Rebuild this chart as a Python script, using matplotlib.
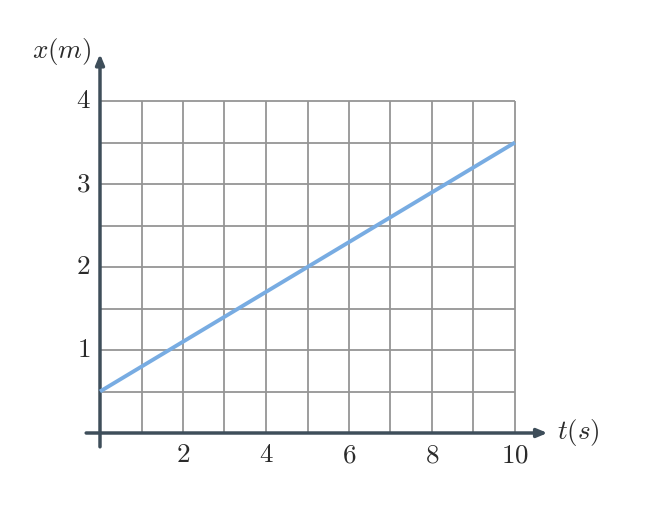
import numpy as np
import matplotlib
matplotlib.use('Agg')
import matplotlib.pyplot as plt

plt.rcParams['mathtext.fontset'] = 'cm'

# data
t_vals = [0, 10]
x_vals = [0.5, 3.5]
x_ticks = [2, 4, 6, 8, 10]
y_ticks = [1, 2, 3, 4]
grid_x = np.arange(0, 11, 1)
grid_y = np.arange(0, 4.5, 0.5)

AXIS_COLOR = '#3e4e5a'
LINE_COLOR = '#78ace2'
GRID_COLOR = '#959595'
TEXT_COLOR = '#2b2b2b'
FS = 19.5

fig = plt.figure(figsize=(6.48, 5.16), dpi=100)
ax = fig.add_axes([0, 0, 1, 1])
ax.set_xlim(-100 / 41.5, 548 / 41.5)
ax.set_ylim(-83 / 83, 433 / 83)
ax.axis('off')

# grid
ax.vlines(grid_x, 0, 4, color=GRID_COLOR, lw=1.3, zorder=1)
ax.hlines(grid_y, 0, 10, color=GRID_COLOR, lw=1.3, zorder=1)

# axes with arrows
ax.annotate('', xy=(10.85, 0), xytext=(-0.4, 0),
            arrowprops=dict(arrowstyle='-|>,head_length=0.6,head_width=0.25',
                            color=AXIS_COLOR, lw=2.5), zorder=3)
ax.annotate('', xy=(0, 4.6), xytext=(0, -0.2),
            arrowprops=dict(arrowstyle='-|>,head_length=0.6,head_width=0.25',
                            color=AXIS_COLOR, lw=2.5), zorder=3)

# data line
ax.plot(t_vals, x_vals, color=LINE_COLOR, lw=2.8, zorder=4, solid_capstyle='butt')

# tick labels
for tx in x_ticks:
    ax.text(tx, -0.27, f'${tx}$', ha='center', va='center', fontsize=FS, color=TEXT_COLOR)
for ty in y_ticks:
    ax.text(-0.4, ty, f'${ty}$', ha='center', va='center', fontsize=FS, color=TEXT_COLOR)

# axis labels
ax.text(-0.92, 4.6, r'$x(m)$', ha='center', va='center', fontsize=FS, color=TEXT_COLOR)
ax.text(11.52, 0.0, r'$t(s)$', ha='center', va='center', fontsize=FS, color=TEXT_COLOR)

fig.savefig('out.png', dpi=100)
